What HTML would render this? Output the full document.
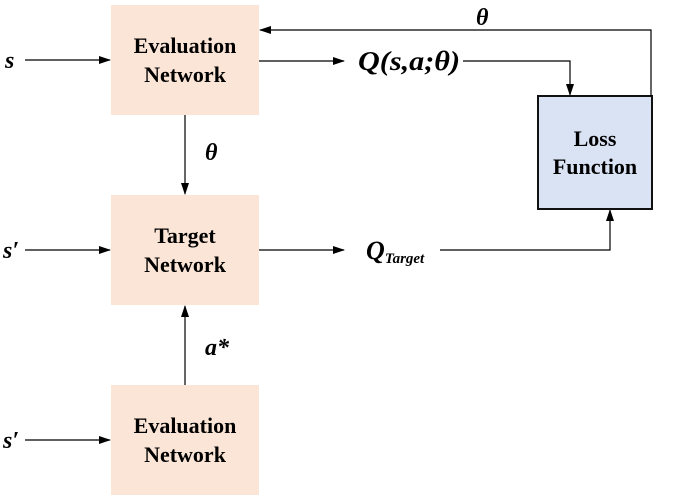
<!DOCTYPE html>
<html><head><style>
body{margin:0;background:#fff}
svg{display:block}
text{font-family:"Liberation Serif",serif;font-weight:bold}
</style></head><body>
<svg width="685" height="496" viewBox="0 0 685 496">
<defs><marker id="a" markerWidth="12" markerHeight="8" refX="11" refY="4" orient="auto" markerUnits="userSpaceOnUse"><path d="M0,0 L12,4 L0,8 Z" fill="#000"/></marker></defs>
<rect x="111" y="5" width="148" height="110" fill="#FBE5D6"/>
<rect x="111" y="195" width="148" height="110" fill="#FBE5D6"/>
<rect x="111" y="385" width="148" height="110" fill="#FBE5D6"/>
<rect x="538" y="96" width="114" height="113" fill="#DAE3F3" stroke="#111" stroke-width="2"/>
<g font-size="22" text-anchor="middle">
<text x="185" y="53">Evaluation</text><text x="185" y="82">Network</text>
<text x="185" y="243">Target</text><text x="185" y="272">Network</text>
<text x="185" y="433">Evaluation</text><text x="185" y="462">Network</text>
<text x="595" y="146">Loss</text><text x="595" y="174">Function</text>
</g>
<g stroke="#000" stroke-width="1.2" fill="none">
<line x1="25" y1="60" x2="110" y2="60" marker-end="url(#a)"/>
<line x1="25" y1="250" x2="110" y2="250" marker-end="url(#a)"/>
<line x1="25" y1="440" x2="110" y2="440" marker-end="url(#a)"/>
<line x1="259" y1="61" x2="344" y2="61" marker-end="url(#a)"/>
<polyline points="463,61 570,61 570,95" marker-end="url(#a)"/>
<polyline points="651,96 651,30 260,30" marker-end="url(#a)"/>
<line x1="185" y1="115" x2="185" y2="194" marker-end="url(#a)"/>
<line x1="185" y1="385" x2="185" y2="306" marker-end="url(#a)"/>
<line x1="259" y1="250" x2="344" y2="250" marker-end="url(#a)"/>
<polyline points="440,250 610,250 610,210" marker-end="url(#a)"/>
</g>
<g font-size="24" font-style="italic">
<text x="5" y="68">s</text>
<text x="3" y="258">s′</text>
<text x="3" y="448">s′</text>
<text x="358" y="70" font-size="27" textLength="102" lengthAdjust="spacingAndGlyphs">Q(s,a;θ)</text>
<text x="476" y="25">θ</text>
<text x="205" y="160">θ</text>
<text x="205" y="355">a*</text>
<text x="366" y="259" font-size="26">Q<tspan font-size="15" dy="4">Target</tspan></text>
</g>
</svg>
</body></html>
